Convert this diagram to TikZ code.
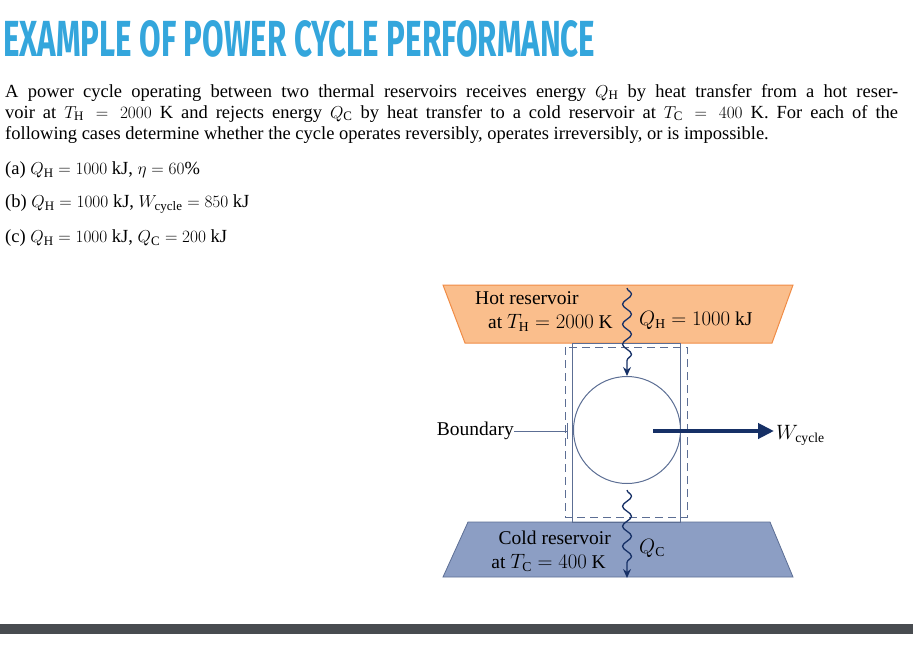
\documentclass[tikz,border=0pt]{standalone}
\usepackage{fontspec}
\usepackage{graphicx}
\setmainfont{Liberation Serif}
\newfontfamily\titlefont{Fira Sans}
\usetikzlibrary{decorations.pathmorphing,arrows.meta}
\definecolor{titleblue}{RGB}{52,166,220}
\definecolor{hotfill}{RGB}{250,190,140}
\definecolor{hotline}{RGB}{240,140,70}
\definecolor{coldfill}{RGB}{140,158,196}
\definecolor{navy}{RGB}{22,48,102}
\definecolor{bargray}{RGB}{72,76,80}
\tikzset{
  boxline/.style={draw=navy!70,line width=1pt},
  heatflow/.style={navy,line width=1.3pt,decorate,decoration={snake,amplitude=4.5pt,segment length=20pt,post length=10pt},-{Stealth[length=9pt,width=8pt]}},
  label/.style={font=\fontsize{19.5}{19.5}\selectfont,inner sep=0pt},
}
\begin{document}
\begin{tikzpicture}[x=1pt,y=-1pt]
  \useasboundingbox (0,0) rectangle (913,648);
  \node[anchor=south west,inner sep=0pt,text=titleblue] (title) at (3,58)
    {\resizebox{592pt}{36pt}{\titlefont\bfseries EXAMPLE OF POWER CYCLE PERFORMANCE}};
  \node[anchor=north west,inner sep=0pt,text width=893pt,align=justify] (intro) at (5,84)
    {\fontsize{18.5}{21}\selectfont A power cycle operating between two thermal reservoirs receives energy $Q_{\mathrm{H}}$ by heat transfer from a hot reser-\linebreak voir at $T_{\mathrm{H}}=2000$ K and rejects energy $Q_{\mathrm{C}}$ by heat transfer to a cold reservoir at $T_{\mathrm{C}}=400$ K. For each of the\linebreak following cases determine whether the cycle operates reversibly, operates irreversibly, or is impossible.\par};
  \node[anchor=west,inner sep=0pt,font=\fontsize{18.5}{18.5}\selectfont] (casea) at (5,170) {(a) $Q_{\mathrm{H}}=1000$ kJ, $\eta=60\%$};
  \node[anchor=west,inner sep=0pt,font=\fontsize{18.5}{18.5}\selectfont] (caseb) at (5,204) {(b) $Q_{\mathrm{H}}=1000$ kJ, $W_{\mathrm{cycle}}=850$ kJ};
  \node[anchor=west,inner sep=0pt,font=\fontsize{18.5}{18.5}\selectfont] (casec) at (5,238) {(c) $Q_{\mathrm{H}}=1000$ kJ, $Q_{\mathrm{C}}=200$ kJ};
  % reservoirs
  \filldraw[fill=hotfill,draw=hotline,line width=1pt] (443,285) -- (793,285) -- (772,343) -- (465,343) -- cycle;
  \filldraw[fill=coldfill,draw=navy!70,line width=0.8pt] (468,522) -- (770,522) -- (793,577) -- (443,577) -- cycle;
  % boundary
  \draw[boxline] (572,343) rectangle (680,522);
  \draw[boxline,dashed,dash pattern=on 8pt off 5pt] (565,347) rectangle (687,517);
  \node[circle,draw=navy!70,line width=1pt,minimum size=107pt,inner sep=0pt] (cycle) at (627,430) {};
  \coordinate (hotsrc) at (627,288);
  \coordinate (coldsrc) at (627,490);
  \coordinate (coldend) at (627,578);
  \draw[heatflow] (hotsrc) -- (cycle.north);
  \draw[heatflow] (coldsrc) -- (coldend);
  % labels
  \node[label,anchor=west] (hot) at (475,298) {Hot reservoir};
  \node[label,anchor=east] (hotT) at (613,323) {at $T_{\mathrm{H}}=2000$ K};
  \node[label,anchor=west] (qh) at (639,320) {$Q_{\mathrm{H}}=1000$ kJ};
  \node[label,anchor=east] (cold) at (611,538) {Cold reservoir};
  \node[label,anchor=east] (coldT) at (606,563) {at $T_{\mathrm{C}}=400$ K};
  \node[label,anchor=west] (qc) at (639,548) {$Q_{\mathrm{C}}$};
  \node[label,anchor=east] (bnd) at (514,431) {Boundary};
  \coordinate (tick) at (567,431);
  \draw[navy!70,line width=0.7pt] (bnd.east) -- (tick);
  \draw[navy!70,line width=0.7pt] (567,423) -- (567,439);
  \coordinate (wstart) at (653,431);
  \coordinate (wend) at (774,431);
  \node[label,anchor=west] (w) at (776,435) {$W_{\mathrm{cycle}}$};
  \draw[navy,line width=4.5pt,-{Triangle[length=16pt,width=15pt]}] (wstart) -- (wend);
  % bottom bar
  \fill[bargray] (0,624) rectangle (913,634);
\end{tikzpicture}
\end{document}
